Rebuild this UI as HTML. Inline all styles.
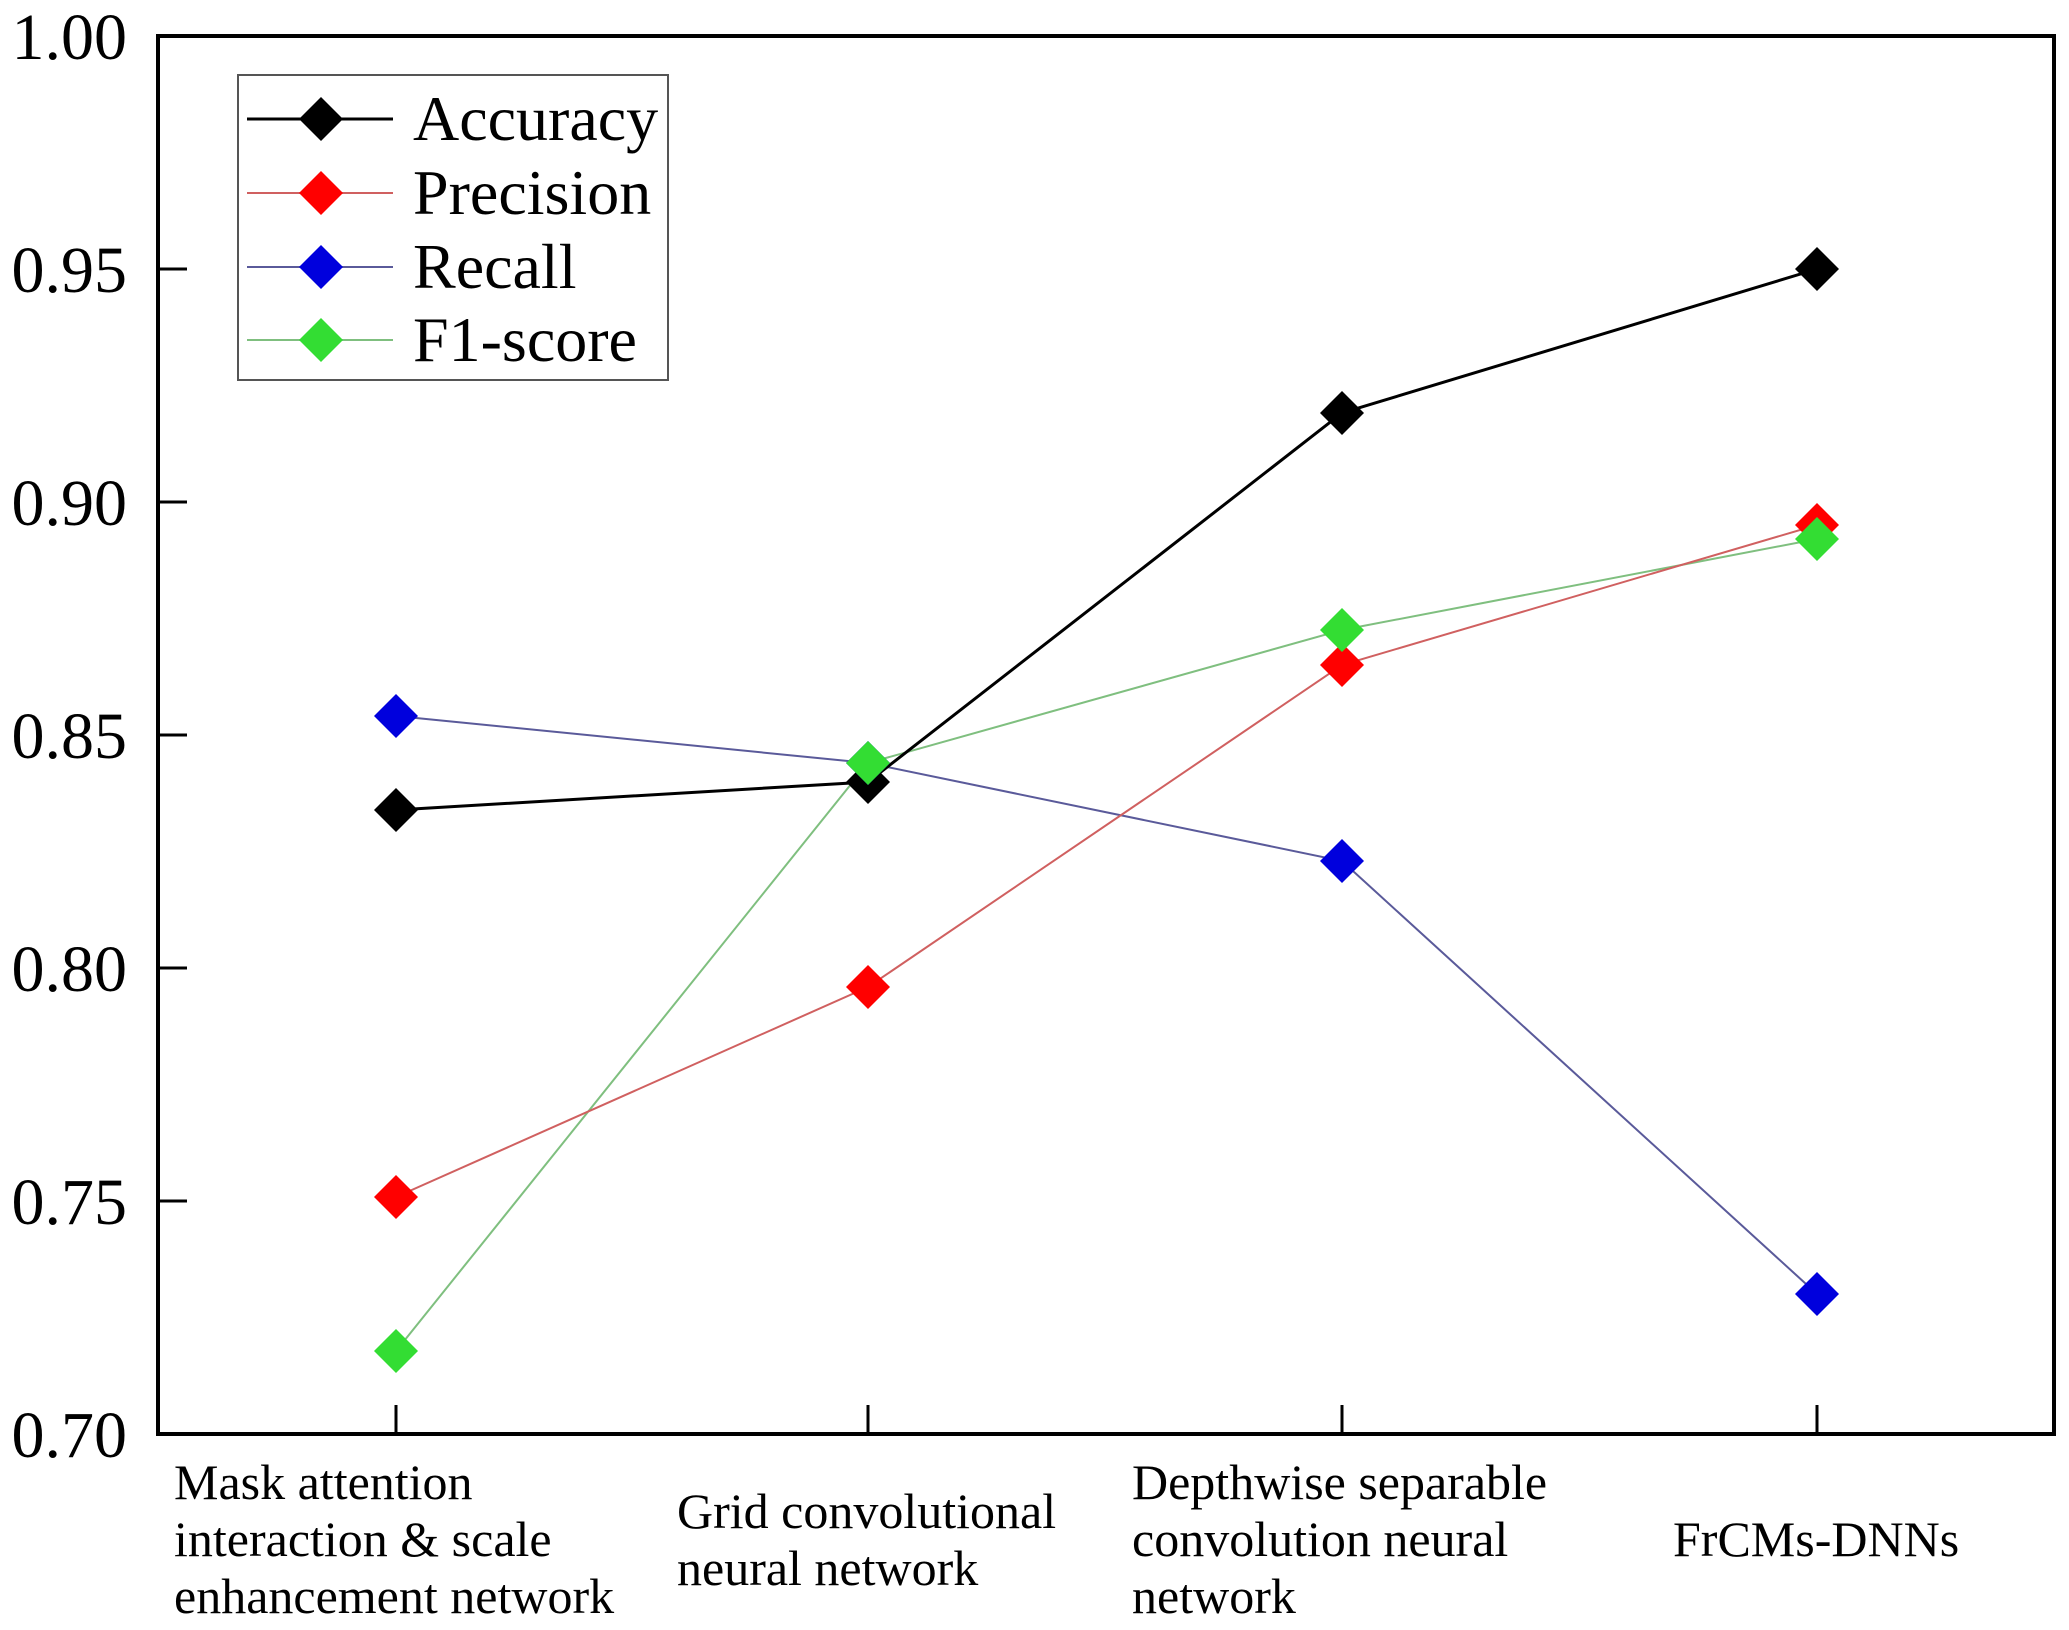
<!DOCTYPE html>
<html><head><style>html,body{margin:0;padding:0;background:#fff}</style></head><body>
<svg width="2069" height="1625" xmlns="http://www.w3.org/2000/svg" font-family="'Liberation Serif',serif">
<rect width="2069" height="1625" fill="#fff"/>
<rect x="158" y="36" width="1896" height="1398" fill="none" stroke="#000" stroke-width="4"/>
<g stroke="#000" stroke-width="3">
<line x1="158" y1="269" x2="187" y2="269"/><line x1="158" y1="502" x2="187" y2="502"/>
<line x1="158" y1="735" x2="187" y2="735"/><line x1="158" y1="968" x2="187" y2="968"/>
<line x1="158" y1="1201" x2="187" y2="1201"/>
<line x1="396" y1="1434" x2="396" y2="1405"/><line x1="868" y1="1434" x2="868" y2="1405"/>
<line x1="1342" y1="1434" x2="1342" y2="1405"/><line x1="1817" y1="1434" x2="1817" y2="1405"/>
</g>
<g font-size="66" text-anchor="end" fill="#000">
<text x="127" y="59">1.00</text><text x="127" y="292">0.95</text><text x="127" y="525">0.90</text>
<text x="127" y="758">0.85</text><text x="127" y="991">0.80</text><text x="127" y="1224">0.75</text>
<text x="127" y="1457">0.70</text>
</g>
<g font-size="50" fill="#000">
<text x="174" y="1499">Mask attention</text><text x="174" y="1556">interaction &amp; scale</text><text x="174" y="1613">enhancement network</text>
<text x="677" y="1528">Grid convolutional</text><text x="677" y="1585">neural network</text>
<text x="1132" y="1499">Depthwise separable</text><text x="1132" y="1556">convolution neural</text><text x="1132" y="1613">network</text>
<text x="1673" y="1556">FrCMs-DNNs</text>
</g>
<defs><path id="d" d="M0,-22 L22,0 L0,22 L-22,0Z"/></defs>
<polyline points="396,1351 868,763 1342,630 1817,539" fill="none" stroke="#7fbf7f" stroke-width="2"/>
<polyline points="396,716 868,763 1342,861 1817,1294" fill="none" stroke="#5a5a9a" stroke-width="2"/>
<polyline points="396,1197 868,987 1342,665 1817,525" fill="none" stroke="#d06060" stroke-width="2"/>
<polyline points="396,810 868,782 1342,413 1817,269" fill="none" stroke="#000" stroke-width="3"/>
<g fill="#000"><use href="#d" x="396" y="810"/><use href="#d" x="868" y="782"/><use href="#d" x="1342" y="413"/><use href="#d" x="1817" y="269"/></g>
<g fill="#f00"><use href="#d" x="396" y="1197"/><use href="#d" x="868" y="987"/><use href="#d" x="1342" y="665"/><use href="#d" x="1817" y="525"/></g>
<g fill="#00d"><use href="#d" x="396" y="716"/><use href="#d" x="868" y="763"/><use href="#d" x="1342" y="861"/><use href="#d" x="1817" y="1294"/></g>
<g fill="#3d3"><use href="#d" x="396" y="1351"/><use href="#d" x="868" y="763"/><use href="#d" x="1342" y="630"/><use href="#d" x="1817" y="539"/></g>
<rect x="238" y="75" width="430" height="305" fill="#fff" stroke="#555" stroke-width="2"/>
<line x1="247" y1="119" x2="393" y2="119" stroke="#000" stroke-width="3"/>
<line x1="247" y1="193" x2="393" y2="193" stroke="#d06060" stroke-width="2"/>
<line x1="247" y1="267" x2="393" y2="267" stroke="#5a5a9a" stroke-width="2"/>
<line x1="247" y1="340" x2="393" y2="340" stroke="#7fbf7f" stroke-width="2"/>
<use href="#d" x="321" y="119" fill="#000"/><use href="#d" x="321" y="193" fill="#f00"/>
<use href="#d" x="321" y="267" fill="#00d"/><use href="#d" x="321" y="340" fill="#3d3"/>
<g font-size="64" fill="#000">
<text x="413" y="140">Accuracy</text><text x="413" y="214">Precision</text>
<text x="413" y="288">Recall</text><text x="413" y="361">F1-score</text>
</g>
</svg>
</body></html>
